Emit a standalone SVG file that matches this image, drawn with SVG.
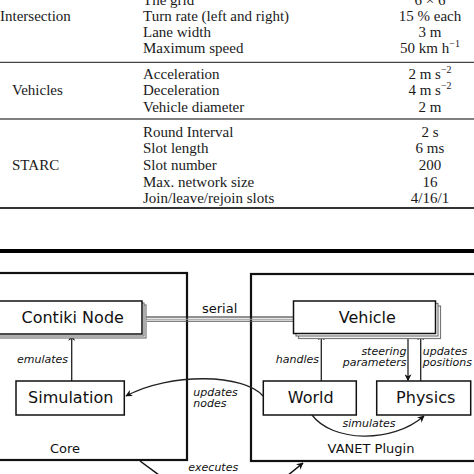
<svg xmlns="http://www.w3.org/2000/svg" width="474" height="474" viewBox="0 0 474 474">
<style>
.t{font-family:"Liberation Serif",serif;font-size:15px;fill:#1a1a1a}
.v{text-anchor:middle}
.n{font-family:"DejaVu Sans",sans-serif;font-size:16px;fill:#111;text-anchor:middle}
.l{font-family:"DejaVu Sans",sans-serif;font-size:13px;fill:#111}
.i{font-family:"DejaVu Sans",sans-serif;font-size:11px;font-style:italic;fill:#111}
.box{fill:#fff;stroke:#111;stroke-width:1.5}
.sh{fill:#fff;stroke:#777;stroke-width:1.2}
.frame{fill:none;stroke:#111;stroke-width:2.2}
.c{fill:none;stroke:#222;stroke-width:1.3}
.sup{font-size:10px}
</style>
<defs>
<marker id="ah" viewBox="0 0 10 10" refX="9" refY="5" markerWidth="7" markerHeight="7" orient="auto" markerUnits="userSpaceOnUse">
<path d="M0,0 L10,5 L0,10 L3,5 z" fill="#111"/>
</marker>
</defs>
<rect width="474" height="474" fill="#fff"/>
<g id="table">
<text class="t" x="143" y="4.5">The grid</text>
<text class="t v" x="430" y="4.5">6 × 6</text>
<text class="t" x="0" y="20.5">Intersection</text>
<text class="t" x="143" y="20.5">Turn rate (left and right)</text>
<text class="t v" x="430" y="20.5">15 % each</text>
<text class="t" x="143" y="36.8">Lane width</text>
<text class="t v" x="430" y="36.8">3 m</text>
<text class="t" x="143" y="53">Maximum speed</text>
<text class="t v" x="430" y="53">50 km h<tspan class="sup" dy="-6">−1</tspan></text>
<line x1="0" y1="62.3" x2="474" y2="62.3" stroke="#444" stroke-width="1.3"/>
<text class="t" x="12" y="95">Vehicles</text>
<text class="t" x="143" y="78.7">Acceleration</text>
<text class="t v" x="430" y="78.7">2 m s<tspan class="sup" dy="-6">−2</tspan></text>
<text class="t" x="143" y="95">Deceleration</text>
<text class="t v" x="430" y="95">4 m s<tspan class="sup" dy="-6">−2</tspan></text>
<text class="t" x="143" y="111.7">Vehicle diameter</text>
<text class="t v" x="430" y="111.7">2 m</text>
<line x1="0" y1="119" x2="474" y2="119" stroke="#555" stroke-width="1.3"/>
<text class="t" x="12" y="170">STARC</text>
<text class="t" x="143" y="136.7">Round Interval</text>
<text class="t v" x="430" y="136.7">2 s</text>
<text class="t" x="143" y="153.3">Slot length</text>
<text class="t v" x="430" y="153.3">6 ms</text>
<text class="t" x="143" y="170">Slot number</text>
<text class="t v" x="430" y="170">200</text>
<text class="t" x="143" y="186.7">Max. network size</text>
<text class="t v" x="430" y="186.7">16</text>
<text class="t" x="143" y="203.3">Join/leave/rejoin slots</text>
<text class="t v" x="430" y="203.3">4/16/1</text>
<line x1="0" y1="208" x2="474" y2="208" stroke="#333" stroke-width="1.8"/>
</g>
<line x1="0" y1="251" x2="474" y2="251" stroke="#000" stroke-width="4"/>
<g id="core">
<rect class="frame" x="-5" y="273" width="192" height="187"/>
<text class="l" x="50" y="452.7">Core</text>
</g>
<g id="vanet">
<rect class="frame" x="251" y="274" width="230" height="187"/>
<text class="l" x="371" y="453.3" text-anchor="middle">VANET Plugin</text>
</g>
<g id="connectors">
<line x1="143" y1="317" x2="294" y2="317" stroke="#222" stroke-width="1.1"/>
<line x1="145" y1="319.2" x2="294" y2="319.2" stroke="#999" stroke-width="1.1"/>
<line x1="147" y1="321.2" x2="294" y2="321.2" stroke="#555" stroke-width="1.1"/>
<text class="l" x="202" y="313">serial</text>
<line class="c" x1="71.7" y1="381" x2="71.7" y2="334.5" marker-end="url(#ah)"/>
<text class="i" x="68" y="362.7" text-anchor="end">emulates</text>
<path class="c" d="M263,396 C245,374 170,372 126,396" marker-end="url(#ah)"/>
<text class="i" x="193.3" y="395.5">updates</text>
<text class="i" x="193.3" y="406.5">nodes</text>
<line class="c" x1="321.3" y1="381" x2="321.3" y2="334" marker-end="url(#ah)"/>
<text class="i" x="319" y="362.7" text-anchor="end">handles</text>
<line class="c" x1="408" y1="333.5" x2="408" y2="380.5" marker-end="url(#ah)"/>
<text class="i" x="406.5" y="355" text-anchor="end">steering</text>
<text class="i" x="406.5" y="366" text-anchor="end">parameters</text>
<line class="c" x1="420.7" y1="381" x2="420.7" y2="334" marker-end="url(#ah)"/>
<text class="i" x="422.7" y="355">updates</text>
<text class="i" x="422.7" y="366">positions</text>
<path class="c" d="M312,415 C332,442 392,444 424,416" marker-end="url(#ah)"/>
<text class="i" x="369" y="426.7" text-anchor="middle">simulates</text>
<line x1="140" y1="461" x2="159" y2="475" stroke="#111" stroke-width="1.5"/>
<line x1="287" y1="476" x2="303" y2="463" stroke="#111" stroke-width="1.5" marker-end="url(#ah)"/>
<text class="i" x="188.3" y="470.7">executes</text>
</g>
<g id="contiki">
<rect class="sh" x="-1" y="305" width="147" height="33"/>
<rect class="sh" x="-3" y="303" width="147" height="33"/>
<rect class="box" x="-5" y="301" width="147" height="33"/>
<text class="n" x="72.7" y="323.3">Contiki Node</text>
</g>
<g id="vehicle">
<rect class="sh" x="298.5" y="306" width="142" height="32.5"/>
<rect class="sh" x="296" y="303.5" width="142" height="32.5"/>
<rect class="box" x="293.5" y="301" width="142" height="32.5"/>
<text class="n" x="367.3" y="323.3">Vehicle</text>
</g>
<g id="simulation">
<rect class="box" x="16" y="381" width="108.3" height="34"/>
<text class="n" x="70.7" y="403.3">Simulation</text>
</g>
<g id="world">
<rect class="box" x="263.3" y="381" width="93" height="34"/>
<text class="n" x="310.7" y="403.3">World</text>
</g>
<g id="physics">
<rect class="box" x="376.7" y="381" width="94" height="34"/>
<text class="n" x="425.7" y="403.3">Physics</text>
</g>
</svg>
